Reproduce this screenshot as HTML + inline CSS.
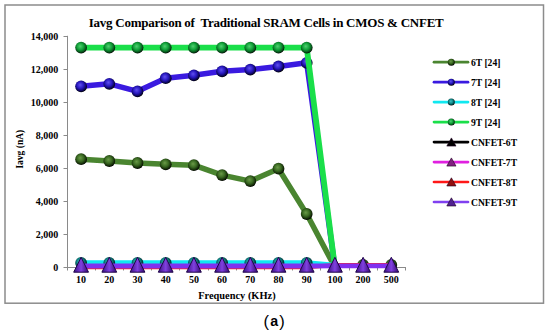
<!DOCTYPE html><html><head><meta charset="utf-8"><style>html,body{margin:0;padding:0;background:#fff;width:550px;height:333px;overflow:hidden}svg{display:block}text{font-family:"Liberation Serif",serif;font-weight:bold;fill:#000}</style></head><body>
<svg width="550" height="333" viewBox="0 0 550 333">
<defs>
<radialGradient id="g6" cx="0.45" cy="0.42" r="0.58" fx="0.42" fy="0.38"><stop offset="0" stop-color="#6a9a48"/><stop offset="0.5" stop-color="#3a6a22"/><stop offset="0.85" stop-color="#142a08"/><stop offset="1" stop-color="#000"/></radialGradient>
<radialGradient id="g7" cx="0.45" cy="0.42" r="0.58" fx="0.42" fy="0.38"><stop offset="0" stop-color="#6050f0"/><stop offset="0.5" stop-color="#2818c0"/><stop offset="0.85" stop-color="#0a0550"/><stop offset="1" stop-color="#000"/></radialGradient>
<radialGradient id="g8" cx="0.45" cy="0.42" r="0.58" fx="0.42" fy="0.38"><stop offset="0" stop-color="#40c0c0"/><stop offset="0.5" stop-color="#108888"/><stop offset="0.85" stop-color="#003838"/><stop offset="1" stop-color="#000"/></radialGradient>
<radialGradient id="g9" cx="0.45" cy="0.42" r="0.58" fx="0.42" fy="0.38"><stop offset="0" stop-color="#50d070"/><stop offset="0.5" stop-color="#10a038"/><stop offset="0.85" stop-color="#064a18"/><stop offset="1" stop-color="#000"/></radialGradient>
<linearGradient id="tp" x1="0" y1="0" x2="1" y2="0"><stop offset="0" stop-color="#3a1080"/><stop offset="0.5" stop-color="#8040e0"/><stop offset="1" stop-color="#30086a"/></linearGradient>
</defs>
<rect x="5" y="5" width="538.5" height="298.2" fill="#fff" stroke="#8c8c8c" stroke-width="1.5"/>
<text x="88.7" y="26.9" font-size="13" letter-spacing="-0.25" style="white-space:pre">Iavg Comparison of  Traditional SRAM Cells in CMOS &amp; CNFET</text>
<path d="M67.5,35.8 V267.5 H405.4" fill="none" stroke="#8a8a8a" stroke-width="1"/>
<path d="M63.5,267.5H67.0 M63.5,234.5H67.0 M63.5,201.5H67.0 M63.5,168.5H67.0 M63.5,135.5H67.0 M63.5,102.5H67.0 M63.5,69.5H67.0 M63.5,36.5H67.0 M67.5,267.0V270.5 M95.5,267.0V270.5 M123.5,267.0V270.5 M151.5,267.0V270.5 M179.5,267.0V270.5 M208.5,267.0V270.5 M236.5,267.0V270.5 M264.5,267.0V270.5 M292.5,267.0V270.5 M320.5,267.0V270.5 M349.5,267.0V270.5 M377.5,267.0V270.5 M405.5,267.0V270.5" stroke="#8a8a8a" stroke-width="1"/>
<text x="58.2" y="270.9" font-size="10" text-anchor="end">0</text>
<text x="58.2" y="237.9" font-size="10" text-anchor="end">2,000</text>
<text x="58.2" y="204.9" font-size="10" text-anchor="end">4,000</text>
<text x="58.2" y="171.8" font-size="10" text-anchor="end">6,000</text>
<text x="58.2" y="138.8" font-size="10" text-anchor="end">8,000</text>
<text x="58.2" y="105.8" font-size="10" text-anchor="end">10,000</text>
<text x="58.2" y="72.8" font-size="10" text-anchor="end">12,000</text>
<text x="58.2" y="39.8" font-size="10" text-anchor="end">14,000</text>
<text x="81.1" y="282.5" font-size="10" text-anchor="middle">10</text>
<text x="109.3" y="282.5" font-size="10" text-anchor="middle">20</text>
<text x="137.5" y="282.5" font-size="10" text-anchor="middle">30</text>
<text x="165.7" y="282.5" font-size="10" text-anchor="middle">40</text>
<text x="193.9" y="282.5" font-size="10" text-anchor="middle">50</text>
<text x="222.1" y="282.5" font-size="10" text-anchor="middle">60</text>
<text x="250.3" y="282.5" font-size="10" text-anchor="middle">70</text>
<text x="278.5" y="282.5" font-size="10" text-anchor="middle">80</text>
<text x="306.7" y="282.5" font-size="10" text-anchor="middle">90</text>
<text x="334.9" y="282.5" font-size="10" text-anchor="middle">100</text>
<text x="363.1" y="282.5" font-size="10" text-anchor="middle">200</text>
<text x="391.3" y="282.5" font-size="10" text-anchor="middle">500</text>
<text x="236.9" y="298.5" font-size="10.4" text-anchor="middle">Frequency (KHz)</text>
<text transform="translate(23,149.2) rotate(-90)" x="0" y="0" font-size="9.5" text-anchor="middle">Iavg (nA)</text>
<polyline points="81.1,159.2 109.3,161.0 137.5,163.0 165.7,164.3 193.9,165.2 222.1,175.1 250.3,181.1 278.5,168.7 306.7,214.0 334.9,267.3" fill="none" stroke="#4a8530" stroke-width="5.5" stroke-linejoin="round"/>
<circle cx="81.1" cy="159.2" r="5.9" fill="url(#g6)"/>
<circle cx="109.3" cy="161.0" r="5.9" fill="url(#g6)"/>
<circle cx="137.5" cy="163.0" r="5.9" fill="url(#g6)"/>
<circle cx="165.7" cy="164.3" r="5.9" fill="url(#g6)"/>
<circle cx="193.9" cy="165.2" r="5.9" fill="url(#g6)"/>
<circle cx="222.1" cy="175.1" r="5.9" fill="url(#g6)"/>
<circle cx="250.3" cy="181.1" r="5.9" fill="url(#g6)"/>
<circle cx="278.5" cy="168.7" r="5.9" fill="url(#g6)"/>
<circle cx="306.7" cy="214.0" r="5.9" fill="url(#g6)"/>
<circle cx="363.1" cy="265.0" r="5.9" fill="url(#g6)"/>
<circle cx="391.3" cy="265.0" r="5.9" fill="url(#g6)"/>
<polyline points="81.1,86.3 109.3,83.8 137.5,91.3 165.7,78.2 193.9,75.3 222.1,71.3 250.3,69.6 278.5,66.5 306.7,62.8 334.9,267.3" fill="none" stroke="#3a1ae0" stroke-width="5.5" stroke-linejoin="round"/>
<circle cx="81.1" cy="86.3" r="5.9" fill="url(#g7)"/>
<circle cx="109.3" cy="83.8" r="5.9" fill="url(#g7)"/>
<circle cx="137.5" cy="91.3" r="5.9" fill="url(#g7)"/>
<circle cx="165.7" cy="78.2" r="5.9" fill="url(#g7)"/>
<circle cx="193.9" cy="75.3" r="5.9" fill="url(#g7)"/>
<circle cx="222.1" cy="71.3" r="5.9" fill="url(#g7)"/>
<circle cx="250.3" cy="69.6" r="5.9" fill="url(#g7)"/>
<circle cx="278.5" cy="66.5" r="5.9" fill="url(#g7)"/>
<circle cx="306.7" cy="62.8" r="5.9" fill="url(#g7)"/>
<polyline points="81.1,263.0 109.3,263.0 137.5,263.0 165.7,263.0 193.9,263.0 222.1,263.0 250.3,263.0 278.5,263.0 306.7,263.0 334.9,265.5" fill="none" stroke="#10e8f0" stroke-width="5.5" stroke-linejoin="round"/>
<circle cx="81.1" cy="263.0" r="5.9" fill="url(#g8)"/>
<circle cx="109.3" cy="263.0" r="5.9" fill="url(#g8)"/>
<circle cx="137.5" cy="263.0" r="5.9" fill="url(#g8)"/>
<circle cx="165.7" cy="263.0" r="5.9" fill="url(#g8)"/>
<circle cx="193.9" cy="263.0" r="5.9" fill="url(#g8)"/>
<circle cx="222.1" cy="263.0" r="5.9" fill="url(#g8)"/>
<circle cx="250.3" cy="263.0" r="5.9" fill="url(#g8)"/>
<circle cx="278.5" cy="263.0" r="5.9" fill="url(#g8)"/>
<circle cx="306.7" cy="263.0" r="5.9" fill="url(#g8)"/>
<polyline points="81.1,47.6 109.3,47.6 137.5,47.6 165.7,47.6 193.9,47.6 222.1,47.6 250.3,47.6 278.5,47.6 306.7,47.6 334.9,267.3" fill="none" stroke="#1adf4a" stroke-width="5.8" stroke-linejoin="round"/>
<circle cx="81.1" cy="47.6" r="5.9" fill="url(#g9)"/>
<circle cx="109.3" cy="47.6" r="5.9" fill="url(#g9)"/>
<circle cx="137.5" cy="47.6" r="5.9" fill="url(#g9)"/>
<circle cx="165.7" cy="47.6" r="5.9" fill="url(#g9)"/>
<circle cx="193.9" cy="47.6" r="5.9" fill="url(#g9)"/>
<circle cx="222.1" cy="47.6" r="5.9" fill="url(#g9)"/>
<circle cx="250.3" cy="47.6" r="5.9" fill="url(#g9)"/>
<circle cx="278.5" cy="47.6" r="5.9" fill="url(#g9)"/>
<circle cx="306.7" cy="47.6" r="5.9" fill="url(#g9)"/>
<polyline points="81.1,266 391.3,266" fill="none" stroke="#000" stroke-width="3.5"/>
<polyline points="81.1,266 391.3,266" fill="none" stroke="#e020e0" stroke-width="3.5"/>
<polyline points="81.1,267.2 306.7,267.2 334.9,264.9 391.3,264.9" fill="none" stroke="#ff2020" stroke-width="4"/>
<polyline points="81.1,266 306.7,266 334.9,265.8 391.3,265.8" fill="none" stroke="#8030f0" stroke-width="4.8"/>
<path d="M81.1,257.3 L88.5,272.2 L73.7,272.2 Z" fill="url(#tp)" stroke="#1e0448" stroke-width="1" stroke-linejoin="round"/>
<path d="M109.3,257.3 L116.7,272.2 L101.9,272.2 Z" fill="url(#tp)" stroke="#1e0448" stroke-width="1" stroke-linejoin="round"/>
<path d="M137.5,257.3 L144.9,272.2 L130.1,272.2 Z" fill="url(#tp)" stroke="#1e0448" stroke-width="1" stroke-linejoin="round"/>
<path d="M165.7,257.3 L173.1,272.2 L158.3,272.2 Z" fill="url(#tp)" stroke="#1e0448" stroke-width="1" stroke-linejoin="round"/>
<path d="M193.9,257.3 L201.3,272.2 L186.5,272.2 Z" fill="url(#tp)" stroke="#1e0448" stroke-width="1" stroke-linejoin="round"/>
<path d="M222.1,257.3 L229.5,272.2 L214.7,272.2 Z" fill="url(#tp)" stroke="#1e0448" stroke-width="1" stroke-linejoin="round"/>
<path d="M250.3,257.3 L257.7,272.2 L242.9,272.2 Z" fill="url(#tp)" stroke="#1e0448" stroke-width="1" stroke-linejoin="round"/>
<path d="M278.5,257.3 L285.9,272.2 L271.1,272.2 Z" fill="url(#tp)" stroke="#1e0448" stroke-width="1" stroke-linejoin="round"/>
<path d="M306.7,257.3 L314.1,272.2 L299.3,272.2 Z" fill="url(#tp)" stroke="#1e0448" stroke-width="1" stroke-linejoin="round"/>
<path d="M334.9,257.3 L342.3,272.2 L327.5,272.2 Z" fill="url(#tp)" stroke="#1e0448" stroke-width="1" stroke-linejoin="round"/>
<path d="M363.1,257.3 L370.5,272.2 L355.7,272.2 Z" fill="url(#tp)" stroke="#1e0448" stroke-width="1" stroke-linejoin="round"/>
<path d="M391.3,257.3 L398.7,272.2 L383.9,272.2 Z" fill="url(#tp)" stroke="#1e0448" stroke-width="1" stroke-linejoin="round"/>
<line x1="434" y1="62.2" x2="468" y2="62.2" stroke="#4a8530" stroke-width="2.7" stroke-linecap="round"/>
<circle cx="451.3" cy="62.2" r="3.5" fill="url(#g6)"/>
<text x="471" y="66.2" font-size="9.6">6T [24]</text>
<line x1="434" y1="82.2" x2="468" y2="82.2" stroke="#3a1ae0" stroke-width="2.7" stroke-linecap="round"/>
<circle cx="451.3" cy="82.2" r="3.5" fill="url(#g7)"/>
<text x="471" y="86.2" font-size="9.6">7T [24]</text>
<line x1="434" y1="102.1" x2="468" y2="102.1" stroke="#10e8f0" stroke-width="2.7" stroke-linecap="round"/>
<circle cx="451.3" cy="102.1" r="3.5" fill="url(#g8)"/>
<text x="471" y="106.1" font-size="9.6">8T [24]</text>
<line x1="434" y1="122.1" x2="468" y2="122.1" stroke="#1adf4a" stroke-width="2.7" stroke-linecap="round"/>
<circle cx="451.3" cy="122.1" r="3.5" fill="url(#g9)"/>
<text x="471" y="126.1" font-size="9.6">9T [24]</text>
<line x1="434" y1="142.1" x2="468" y2="142.1" stroke="#000" stroke-width="2.7" stroke-linecap="round"/>
<path d="M451.4,137.9 L456,146.1 L446.8,146.1 Z" fill="#000" stroke="#200020" stroke-width="0.6"/>
<text x="471" y="146.1" font-size="9.6">CNFET-6T</text>
<line x1="434" y1="162.1" x2="468" y2="162.1" stroke="#e020e0" stroke-width="2.7" stroke-linecap="round"/>
<path d="M451.4,157.9 L456,166.1 L446.8,166.1 Z" fill="#802080" stroke="#200020" stroke-width="0.6"/>
<text x="471" y="166.1" font-size="9.6">CNFET-7T</text>
<line x1="434" y1="182.0" x2="468" y2="182.0" stroke="#ff1818" stroke-width="2.7" stroke-linecap="round"/>
<path d="M451.4,177.8 L456,186.0 L446.8,186.0 Z" fill="#901010" stroke="#200020" stroke-width="0.6"/>
<text x="471" y="186.0" font-size="9.6">CNFET-8T</text>
<line x1="434" y1="202.0" x2="468" y2="202.0" stroke="#8040f0" stroke-width="2.7" stroke-linecap="round"/>
<path d="M451.4,197.8 L456,206.0 L446.8,206.0 Z" fill="#502090" stroke="#200020" stroke-width="0.6"/>
<text x="471" y="206.0" font-size="9.6">CNFET-9T</text>
<text x="263.5" y="326.6" font-size="16.5" style="font-family:'Liberation Sans',sans-serif;font-weight:normal">(</text><text x="270.3" y="326.2" font-size="14.2" style="font-family:'Liberation Sans',sans-serif;font-weight:bold">a</text><text x="279.2" y="326.6" font-size="16.5" style="font-family:'Liberation Sans',sans-serif;font-weight:normal">)</text>
</svg></body></html>
